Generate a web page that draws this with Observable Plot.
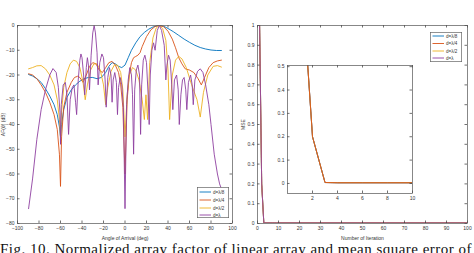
<!DOCTYPE html>
<html><head><meta charset="utf-8">
<script src="https://cdn.jsdelivr.net/npm/d3@7"></script>
<script src="https://cdn.jsdelivr.net/npm/@observablehq/plot@0.6"></script>
<style>
html,body{margin:0;padding:0;background:#fff}
#wrap{position:relative;width:474px;height:253px;overflow:hidden;background:#fff;font-family:"Liberation Sans",Arial,sans-serif}
.abs{position:absolute}
#caption{position:absolute;left:0;top:241px;font-family:"Liberation Serif","DejaVu Serif",serif;font-size:15px;color:#111;white-space:nowrap}
</style></head>
<body>
<div id="wrap">
  <div id="left" class="abs" style="left:0;top:0"></div>
  <div id="right" class="abs" style="left:240px;top:0"></div>
  <div id="inset" class="abs" style="left:270px;top:55px"></div>
  <div id="legL" class="abs" style="left:197px;top:187px"></div>
  <div id="legR" class="abs" style="left:430px;top:32px"></div>
  <div id="caption">Fig. 10. Normalized array factor of linear array and mean square error of</div>
</div>
<script>
// ---- series names & colours
const seriesNames = ["d=λ/8", "d=λ/4", "d=λ/2", "d=λ"];
const seriesColors = ["#0072BD", "#D95319", "#EDB120", "#8E3FA0"];

// ---- left panel: array factor (dB) vs angle of arrival (deg)
const blueAngles = [-89.7,-86,-82,-78,-74,-70,-66,-63,-61,-60,-59,-57,-54,-50,-46,-42,-38,-34,-30,-26,-22,-18,-15,-12,-9,-6,-3,0,3,6,10,14,18,22,26,30,32,36,40,45,50,55,60,65,70,75,80,85,89.7];
const blueDb = [-19.8,-20.4,-21.5,-23,-25.5,-28.5,-32,-36,-41,-45,-40,-34,-29,-26,-24,-22.5,-21.5,-21,-21,-21.5,-21,-19,-16.5,-15,-15.5,-16.5,-17,-16,-13,-10,-7,-4.5,-2.8,-1.5,-0.6,-0.1,0,-0.3,-1.2,-2.5,-4,-5.5,-6.8,-8,-8.9,-9.5,-9.9,-10.1,-10.1];

const redAngles = [-89.7,-86,-82,-78,-74,-70,-66,-63,-61,-60,-59,-57,-54,-50,-47,-44,-42,-39,-36,-33,-30,-27,-24,-21,-18,-15,-12,-9,-6,-4,-2,0,2,4,6,8,10,12,14,16,20,24,28,32,36,40,44,47,50,53,56,60,64,68,71,74,78,82,86,89.7];
const redDb = [-19.5,-20,-21.5,-24,-27,-31,-36,-42,-52,-65,-45,-33,-27,-23,-21,-20.5,-21,-23,-20,-16.5,-15,-15.5,-18,-19,-17,-15,-14.5,-16,-19,-24,-33,-60,-30,-20,-15,-13,-12.5,-12,-11,-8.5,-4.5,-1.8,-0.4,0,-0.5,-2.3,-5.5,-9,-13,-15.5,-17.5,-18,-19,-21.5,-24,-21,-17,-15,-14.3,-14];

const yellowAngles = [-89.7,-86,-82,-78,-74,-70,-66,-63,-61,-60,-59,-57,-54,-51,-48,-45,-42,-39,-37,-35,-32,-29,-26,-23,-20,-18,-16,-13,-10,-7,-4,-2,0,2,4,7,10,13,16,18,19.5,21,23,26,29,32,35,38,40,41.5,44,47,50,53,57,62,67,70,73,77,82,86,89.7];
const yellowDb = [-17.5,-17,-16.3,-16.2,-17.5,-20,-24,-30,-38,-45,-35,-25,-19,-15.5,-14,-14.5,-17,-23,-30,-24,-18,-15.5,-15.5,-18,-24,-32,-25,-18.5,-16,-16,-19,-26,-45,-28,-20,-17,-18,-22,-30,-38,-28,-38,-15,-5,-1,0,-1.2,-6,-18,-38,-20,-14,-12.5,-13.5,-17,-24,-30,-37,-27,-20,-16.5,-16.2,-16.8];

const purpleAngles = [-89.7,-86,-82,-78,-74,-70,-67,-64,-62,-60.5,-60,-59.3,-57.5,-55.5,-54,-52.5,-51,-49,-47.5,-46,-45,-43.5,-42,-41,-40,-38.5,-37.5,-36,-35,-34,-33,-31.5,-30,-28.7,-27.5,-26,-25,-23.5,-21.5,-20,-18.5,-17.5,-16,-14.5,-13,-12,-11,-9.5,-8,-7,-6,-4.5,-3,-1.5,0,1.5,3,4.5,6,7,8,9,10.5,12,13.5,14.5,15.5,17,18.5,20,21.5,22.5,23.5,25,26.5,28,30,32,34,36.5,38,39,40.5,42,43.5,44.5,46,48,49.5,50.5,52,53.5,55,56.5,57.5,59,61,62.5,63.5,65,67.5,70,72.5,75,78,80,83,86,88,89.7];
const purpleDb = [-74,-62,-46,-34,-26,-20,-17.4,-19,-25,-35,-48,-32,-24,-23,-28,-44,-30,-25,-24,-31,-36,-22,-14,-11.5,-13,-20,-28,-17,-13,-16,-26,-12,-3,0,-3,-11,-24,-15,-11.5,-13,-22,-33,-21,-17,-20,-31,-22,-19,-23,-36,-25,-21,-24,-33,-74,-32,-22,-17,-20,-28,-52,-26,-18,-16,-20,-44,-24,-14,-12,-15,-28,-40,-20,-10,-7,-10,-2,0,-2,-8,-22,-16,-12,-14,-24,-34,-22,-20,-26,-40,-28,-22,-21,-26,-34,-23,-20,-24,-32,-22,-18.5,-17.5,-19,-24,-32,-40,-52,-60,-64,-66];

// ---- right panel: MSE vs number of iterations
const iterations = [1,2,3,4,5,6,7,8,9,10,100];
const mseBlue   = [1.00,0.20,0.004,0.003,0.003,0.003,0.003,0.003,0.003,0.003,0.003];
const mseRed    = [1.00,0.20,0.004,0.003,0.003,0.003,0.003,0.003,0.003,0.003,0.003];
const mseYellow = [1.00,0.20,0.004,0.003,0.003,0.003,0.003,0.003,0.003,0.003,0.003];
const msePurple = [1.00,0.20,0.004,0.003,0.003,0.003,0.003,0.003,0.003,0.003,0.003];

// ---- ticks
const afXTicks = [-100,-80,-60,-40,-20,0,20,40,60,80,100];
const afYTicks = [0,-10,-20,-30,-40,-50,-60,-70,-80];
const mseXTicks = [0,10,20,30,40,50,60,70,80,90,100];
const mseYTicks = [0,0.1,0.2,0.3,0.4,0.5,0.6,0.7,0.8,0.9,1];
const insetXTicks = [2,4,6,8,10];
const insetYTicks = [0,0.1,0.2,0.3,0.4,0.5];

// ---- build tables
function pairs(name, xs, ys, xk, yk){ return xs.map((v,i)=>({series:name,[xk]:v,[yk]:ys[i]})); }
const afRows = [
  ...pairs(seriesNames[0], blueAngles, blueDb, "angle","db"),
  ...pairs(seriesNames[1], redAngles, redDb, "angle","db"),
  ...pairs(seriesNames[2], yellowAngles, yellowDb, "angle","db"),
  ...pairs(seriesNames[3], purpleAngles, purpleDb, "angle","db")
];
const mseSeries = [mseBlue, mseRed, mseYellow, msePurple];
const mseRows = mseSeries.flatMap((s,k)=>pairs(seriesNames[k], iterations, s, "iter","mse"));

const colorScale = {domain: seriesNames, range: seriesColors};
const style = {fontSize:"5px", fontFamily:"Liberation Sans, Arial, sans-serif", color:"#333", background:"transparent", overflow:"visible"};

function inwardTicks(xt, yt, innerW, innerH, len){
  return [
    Plot.tickX(xt, {x:d=>d, stroke:"#333", strokeWidth:0.7, insetTop: innerH-len}),
    Plot.tickX(xt, {x:d=>d, stroke:"#333", strokeWidth:0.7, insetBottom: innerH-len}),
    Plot.tickY(yt, {y:d=>d, stroke:"#333", strokeWidth:0.7, insetRight: innerW-len}),
    Plot.tickY(yt, {y:d=>d, stroke:"#333", strokeWidth:0.7, insetLeft: innerW-len})
  ];
}

// left
{
  const W=240,H=240,ml=17,mr=8,mt=25,mb=17;
  const p = Plot.plot({
    width:W, height:H, marginLeft:ml, marginRight:mr, marginTop:mt, marginBottom:mb,
    style,
    x:{domain:[-100,100]},
    y:{domain:[-80,0]},
    color: colorScale,
    marks:[
      Plot.line(afRows, {x:"angle", y:"db", z:"series", stroke:"series", strokeWidth:0.9, clip:true}),
      ...inwardTicks(afXTicks, afYTicks, W-ml-mr, H-mt-mb, 2.5),
      Plot.frame({stroke:"#555", strokeWidth:0.7}),
      Plot.axisX(afXTicks, {tickSize:0, tickPadding:3, fill:"#333", label:"Angle of Arrival (deg)", labelAnchor:"center", labelOffset:16, labelArrow:"none"}),
      Plot.axisY(afYTicks, {tickSize:0, tickPadding:3, fill:"#333", label:"AF(θ) (dB)", labelAnchor:"center", labelOffset:16, labelArrow:"none"})
    ]
  });
  document.getElementById("left").append(p);
}
// right
{
  const W=234,H=240,ml=17,mr=7,mt=25,mb=17;
  const p = Plot.plot({
    width:W, height:H, marginLeft:ml, marginRight:mr, marginTop:mt, marginBottom:mb,
    style,
    x:{domain:[0,100]},
    y:{domain:[0,1]},
    color: colorScale,
    marks:[
      Plot.line(mseRows, {x:"iter", y:"mse", z:"series", stroke:"series", strokeWidth:0.9, clip:true}),
      ...inwardTicks(mseXTicks, mseYTicks, W-ml-mr, H-mt-mb, 2.5),
      Plot.frame({stroke:"#555", strokeWidth:0.7}),
      Plot.axisX(mseXTicks, {tickSize:0, tickPadding:3, fill:"#333", label:"Number of Iteration", labelAnchor:"center", labelOffset:16, labelArrow:"none"}),
      Plot.axisY(mseYTicks, {tickSize:0, tickPadding:3, fill:"#333", tickFormat:d=>String(d), label:"MSE", labelAnchor:"center", labelOffset:16, labelArrow:"none"})
    ]
  });
  document.getElementById("right").append(p);
}
// inset
{
  const W=150,H=150,ml=17,mr=8,mt=10,mb=12;
  const order = [3,0,2,1];
  const rows = order.flatMap(k=>pairs(seriesNames[k], iterations, mseSeries[k], "iter","mse"));
  const p = Plot.plot({
    width:W, height:H, marginLeft:ml, marginRight:mr, marginTop:mt, marginBottom:mb,
    style,
    x:{domain:[0,10]},
    y:{domain:[-0.043,0.505]},
    color: colorScale,
    marks:[
      Plot.frame({fill:"#fff"}),
      Plot.line(rows, {x:"iter", y:"mse", z:"series", stroke:"series", strokeWidth:0.9, clip:true}),
      ...inwardTicks(insetXTicks, insetYTicks, W-ml-mr, H-mt-mb, 2.5),
      Plot.frame({stroke:"#555", strokeWidth:0.7}),
      Plot.axisX(insetXTicks, {tickSize:0, tickPadding:3, label:null, fill:"#333"}),
      Plot.axisY(insetYTicks, {tickSize:0, tickPadding:3, label:null, fill:"#333", tickFormat:d=>String(d)})
    ]
  });
  document.getElementById("inset").append(p);
}
// legends
function legend(el, w, h, rowY){
  const svg = d3.create("svg").attr("width", w).attr("height", h).style("display","block");
  svg.append("rect").attr("x",0.35).attr("y",0.35).attr("width",w-0.7).attr("height",h-0.7).attr("fill","#fff").attr("stroke","#666").attr("stroke-width",0.7);
  seriesNames.forEach((n,i)=>{
    const y = rowY[i];
    svg.append("line").attr("x1",2.5).attr("x2",14).attr("y1",y).attr("y2",y).attr("stroke",seriesColors[i]).attr("stroke-width",0.9);
    svg.append("text").attr("x",16).attr("y",y).attr("dy","0.35em").attr("font-size","4.5px").attr("font-family","Liberation Sans, Arial, sans-serif").attr("fill","#333").text(n);
  });
  document.getElementById(el).append(svg.node());
}
legend("legL", 32, 31, [5, 13, 21, 28]);
legend("legR", 32, 30, [4, 11.5, 19, 26]);

// fit caption width
const cap = document.getElementById("caption");
const cw = cap.getBoundingClientRect().width;
const n = cap.textContent.length;
cap.style.letterSpacing = ((472 - cw)/n) + "px";
</script>
</body></html>
